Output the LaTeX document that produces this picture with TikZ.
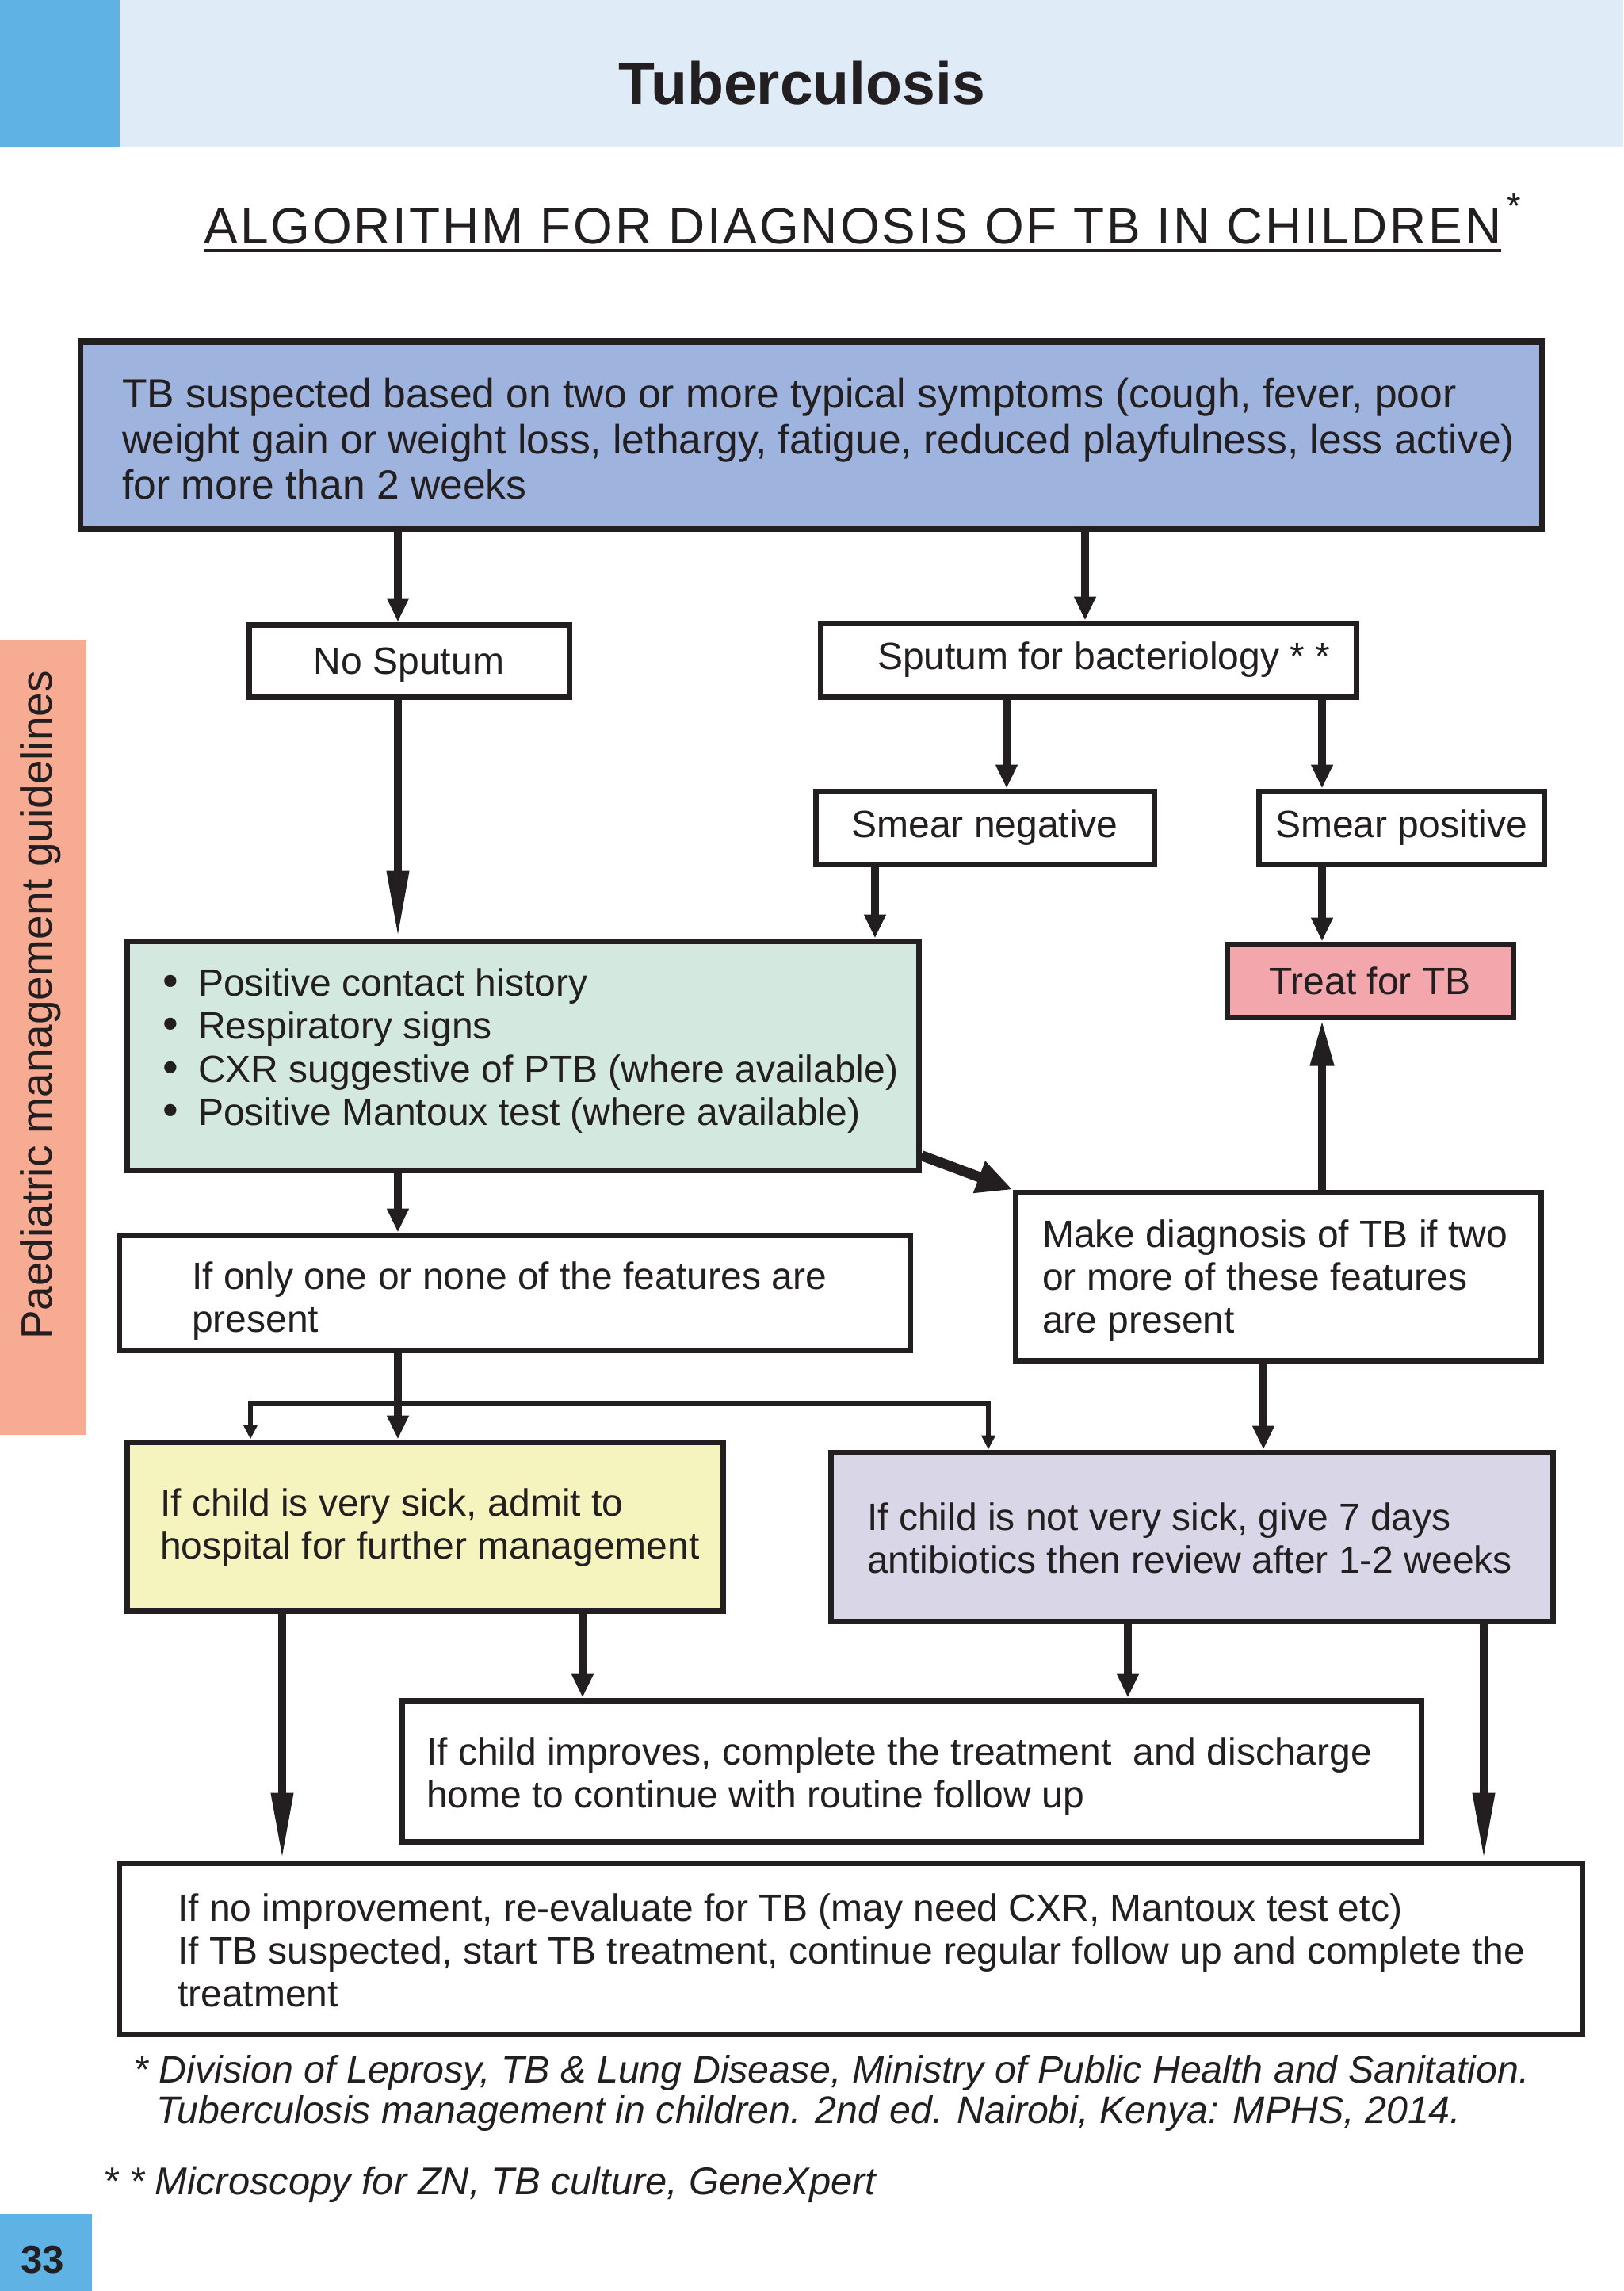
\documentclass[tikz,border=0pt]{standalone}
\usepackage{fontspec}
\setmainfont{Liberation Sans}
\newfontfamily\trackfont[LetterSpace=4.5]{Liberation Sans}
\usepackage{tikz}
\usetikzlibrary{arrows.meta}
\definecolor{bandblue}{HTML}{DFEBF7}
\definecolor{stripblue}{HTML}{5FB3E4}
\definecolor{tabpink}{HTML}{F7AB93}
\definecolor{inkc}{HTML}{231F20}
\definecolor{topfill}{HTML}{9EB3DD}
\definecolor{greenfill}{HTML}{D3E9DF}
\definecolor{treatfill}{HTML}{F4A6AD}
\definecolor{yellowfill}{HTML}{F5F4BE}
\definecolor{lilacfill}{HTML}{D9D6E8}
\newcommand\bodyfont{\fontsize{13.66}{15.4}\selectfont}
\newcommand\topfont{\fontsize{14.68}{16.35}\selectfont}
\newcommand\dotmark{\makebox[0.45cm][l]{\fontsize{16}{15}\selectfont\textbullet}}

\begin{document}
\begin{tikzpicture}[line cap=butt,line join=miter,
  box/.style={draw=inkc,line width=0.07cm,inner sep=0pt,text=inkc,font=\bodyfont},
  txt/.style={anchor=west,align=left,inner sep=0pt,text=inkc,font=\bodyfont},
  arr/.style={draw=inkc,line width=0.10cm,-{Triangle[length=0.30cm,width=0.26cm]}},
  longarr/.style={draw=inkc,line width=0.10cm,-{Triangle[length=0.85cm,width=0.26cm]}},
  midarr/.style={draw=inkc,line width=0.10cm,-{Triangle[length=0.58cm,width=0.28cm]}},
  thinarr/.style={draw=inkc,line width=0.06cm,{Triangle[length=0.18cm,width=0.17cm]}-{Triangle[length=0.18cm,width=0.17cm]}},
  diagarr/.style={draw=inkc,line width=0.13cm,-{Triangle[length=0.45cm,width=0.40cm]}}]
\useasboundingbox (0,0) rectangle (20.48,-28.90);
\fill[white] (0,0) rectangle (20.48,-28.90);
% page furniture
\fill[bandblue] (0,0) rectangle (20.48,-1.85);
\fill[stripblue] (0,0) rectangle (1.51,-1.85);
\fill[tabpink] (0,-8.07) rectangle (1.09,-18.10);
\fill[stripblue] (0,-27.93) rectangle (1.16,-28.90);
\node[anchor=base,inner sep=0pt,text=inkc,font=\fontsize{21.4}{24}\selectfont\bfseries] (title) at (10.12,-1.32) {Tuberculosis};
\node[anchor=base west,inner sep=0pt,text=inkc,font=\trackfont\fontsize{18.2}{22}\selectfont] (algo) at (2.57,-3.08) {ALGORITHM FOR DIAGNOSIS OF TB IN CHILDREN};
\draw[inkc,line width=0.035cm] (2.57,-3.16) -- (18.94,-3.16);
\node[anchor=base,inner sep=0pt,text=inkc,font=\fontsize{12.8}{14}\selectfont] (star) at (19.10,-2.76) {*};
\node[rotate=90,inner sep=0pt,text=inkc,font=\fontsize{15.65}{18}\selectfont] (side) at (0.51,-12.68) {Paediatric management guidelines};
\node[anchor=base,inner sep=0pt,text=inkc,font=\fontsize{14}{16}\selectfont\bfseries] (pgno) at (0.535,-28.67) {33};
% arrow columns
\coordinate (colA) at (5.02,0);
\coordinate (colB) at (13.69,0);
\coordinate (colC) at (12.70,0);
\coordinate (colD) at (16.68,0);
\coordinate (colE) at (11.04,0);
\coordinate (colF) at (15.94,0);
\coordinate (colG) at (3.16,0);
\coordinate (colH) at (12.47,0);
\coordinate (colI) at (3.56,0);
\coordinate (colJ) at (7.35,0);
\coordinate (colK) at (14.23,0);
\coordinate (colL) at (18.72,0);
\coordinate (fork) at (5.02,-17.70);
% boxes
\node[box,fill=topfill,minimum width=18.44cm,minimum height=2.36cm] (top) at (10.23,-5.49) {};
\node[txt,font=\topfont] (topT) at ([xshift=0.56cm,yshift=-0.05cm]top.west) {TB suspected based on two or more typical symptoms (cough, fever, poor\\weight gain or weight loss, lethargy, fatigue, reduced playfulness, less active)\\for more than 2 weeks};
\node[box,minimum width=4.04cm,minimum height=0.91cm,text depth=0pt] (nosput) at (5.16,-8.335) {No Sputum};
\node[box,minimum width=6.76cm,minimum height=0.93cm] (sputum) at (13.73,-8.325) {};
\node[txt] (sputumT) at ([xshift=0.75cm]sputum.west) {Sputum for bacteriology * *};
\node[box,minimum width=4.27cm,minimum height=0.92cm] (smearneg) at (12.425,-10.44) {Smear negative};
\node[box,minimum width=3.60cm,minimum height=0.92cm] (smearpos) at (17.68,-10.44) {Smear positive};
\node[box,fill=greenfill,minimum width=9.99cm,minimum height=2.89cm] (green) at (6.595,-13.315) {};
\node[txt] (greenT) at ([xshift=0.48cm,yshift=0.06cm]green.west) {\dotmark Positive contact history\\\dotmark Respiratory signs\\\dotmark CXR suggestive of PTB (where available)\\\dotmark Positive Mantoux test (where available)};
\node[box,fill=treatfill,minimum width=3.61cm,minimum height=0.92cm] (treat) at (17.285,-12.37) {Treat for TB};
\node[box,minimum width=9.98cm,minimum height=1.45cm] (onlyone) at (6.49,-16.305) {};
\node[txt] (onlyoneT) at ([xshift=0.95cm,yshift=-0.11cm]onlyone.west) {If only one or none of the features are\\present};
\node[box,minimum width=6.63cm,minimum height=2.12cm] (diag) at (16.125,-16.10) {};
\node[txt] (diagT) at ([xshift=0.37cm,yshift=-0.05cm]diag.west) {Make diagnosis of TB if two\\or more of these features\\are present};
\node[box,fill=yellowfill,minimum width=7.52cm,minimum height=2.13cm] (sick) at (5.36,-19.255) {};
\node[txt] (sickT) at ([xshift=0.45cm,yshift=-0.02cm]sick.west) {If child is very sick, admit to\\hospital for further management};
\node[box,fill=lilacfill,minimum width=9.11cm,minimum height=2.13cm] (notsick) at (15.035,-19.385) {};
\node[txt] (notsickT) at ([xshift=0.49cm,yshift=-0.02cm]notsick.west) {If child is not very sick, give 7 days\\antibiotics then review after 1-2 weeks};
\node[box,minimum width=12.86cm,minimum height=1.78cm] (improves) at (11.50,-22.34) {};
\node[txt] (improvesT) at ([xshift=0.34cm,yshift=-0.07cm]improves.west) {If child improves, complete the treatment\ \ and discharge\\home to continue with routine follow up};
\node[box,minimum width=18.46cm,minimum height=2.16cm] (final) at (10.73,-24.58) {};
\node[txt] (finalT) at ([xshift=0.77cm,yshift=-0.02cm]final.west) {If no improvement, re-evaluate for TB (may need CXR, Mantoux test etc)\\If TB suspected, start TB treatment, continue regular follow up and complete the\\treatment};
% connectors
\draw[arr] (top.south -| colA) -- (nosput.north -| colA);
\draw[arr] (top.south -| colB) -- (sputum.north -| colB);
\draw[arr] (sputum.south -| colC) -- (smearneg.north -| colC);
\draw[arr] (sputum.south -| colD) -- (smearpos.north -| colD);
\draw[longarr] (nosput.south -| colA) -- (green.north -| colA);
\draw[arr] (smearneg.south -| colE) -- (green.north -| colE);
\draw[arr] (smearpos.south -| colD) -- (treat.north -| colD);
\draw[midarr] (diag.north -| colD) -- (treat.south -| colD);
\draw[diagarr] ([yshift=0.22cm]green.south east) -- (diag.north west);
\draw[arr] (green.south -| colA) -- (onlyone.north -| colA);
\draw[thinarr] (sick.north -| colG) |- (fork) -| (notsick.north -| colH);
\draw[arr] (onlyone.south -| colA) -- (sick.north -| colA);
\draw[arr] (diag.south -| colF) -- (notsick.north -| colF);
\draw[longarr] (sick.south -| colI) -- (final.north -| colI);
\draw[arr] (sick.south -| colJ) -- (improves.north -| colJ);
\draw[arr] (notsick.south -| colK) -- (improves.north -| colK);
\draw[longarr] (notsick.south -| colL) -- (final.north -| colL);
% footnotes
\node[anchor=base west,inner sep=0pt,text=inkc,font=\fontsize{13.75}{16}\selectfont\itshape] (noteA) at (1.68,-26.27) {* Division of Leprosy, TB \& Lung Disease, Ministry of Public Health and Sanitation.};
\node[anchor=base west,inner sep=0pt,text=inkc,font=\fontsize{13.75}{16}\selectfont\itshape] (noteB) at (1.97,-26.78) {Tuberculosis management in children. 2nd ed. Nairobi, Kenya: MPHS, 2014.};
\node[anchor=base west,inner sep=0pt,text=inkc,font=\fontsize{13.9}{16}\selectfont\itshape] (noteC) at (1.30,-27.68) {* * Microscopy for ZN, TB culture, GeneXpert};
\end{tikzpicture}
\end{document}
